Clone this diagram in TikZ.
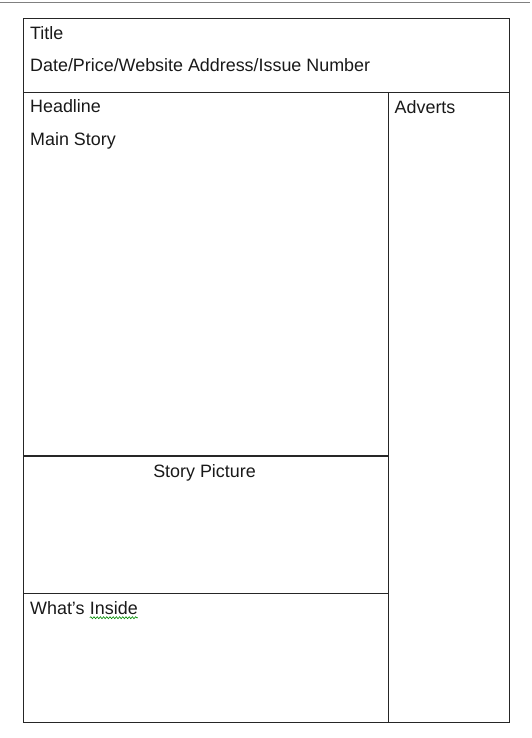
\documentclass[tikz,border=0pt]{standalone}
\usepackage{fontspec}
\setmainfont{Liberation Sans}
\usetikzlibrary{positioning,calc,decorations.pathmorphing}

\tikzset{
    frame/.style={draw=black!85, line width=1.3pt},
    lbl/.style={anchor=base west, inner sep=0pt, text=black!90, font=\fontsize{17.9}{20}\selectfont},
    squiggle/.style={draw=green!55!black, line width=0.6pt, decorate, decoration={snake, amplitude=1pt, segment length=3.2pt}}
}

\begin{document}
\begin{tikzpicture}[x=1pt, y=-1pt]
    \useasboundingbox (0,0) rectangle (532,738);
    \draw[gray, line width=1.4pt] (0,2.7) -- (530,2.7); % page edge

    % Layout frames
    \draw[frame] (23.5,18.5) rectangle (509.5,722.5); % page
    \draw[frame] (23.5,92.7) -- (509.5,92.7); % masthead
    \draw[frame] (388.3,92.7) -- (388.3,722.5); % adverts column
    \draw[frame] (23.5,456) -- (388.3,456); % picture
    \draw[frame] (23.5,593.3) -- (388.3,593.3); % inside

    % Labels
    \node[lbl] (title) at (30,40) {Title};
    \node[lbl] (info) at (30,72) {Date/Price/Website Address/Issue Number};
    \node[lbl] (headline) at (30,112.3) {Headline};
    \node[lbl] (mainstory) at (30,146) {Main Story};
    \node[lbl] (adverts) at (394.5,113.5) {Adverts};
    \node[lbl, anchor=base] (picture) at (204.5,477.3) {Story Picture};
    \node[lbl] (whats) at (30,614.3) {What’s};
    \node[lbl] (inside) at ([xshift=5pt]whats.base east) {Inside};
    \draw[squiggle] ([yshift=-3.4pt]inside.base west) -- ([yshift=-3.4pt]inside.base east);
\end{tikzpicture}
\end{document}
